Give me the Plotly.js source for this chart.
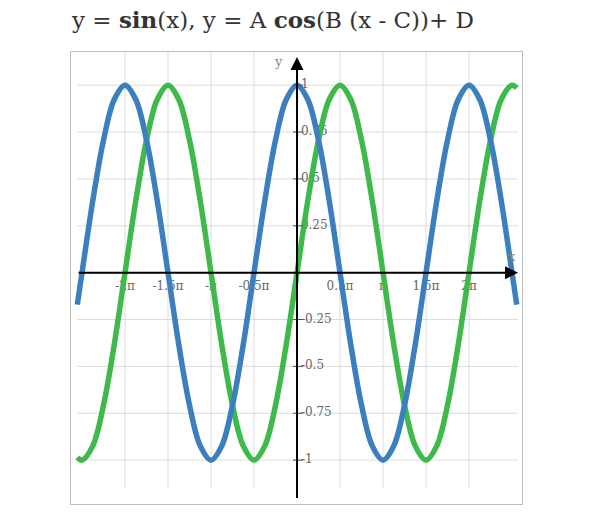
<!DOCTYPE html>
<html>
<head>
<meta charset="utf-8">
<script src="https://cdn.plot.ly/plotly-3.0.1.min.js"></script>
<style>html,body{margin:0;padding:0;background:#fff;}#chart{width:600px;height:524px;}</style>
</head>
<body>
<div id="chart"></div>
<script>
// x in multiples of pi
const xPi = [-2.555, -2.5, -2.375, -2.25, -2.125, -2, -1.875, -1.75, -1.625, -1.5, -1.375, -1.25, -1.125,
  -1, -0.875, -0.75, -0.625, -0.5, -0.375, -0.25, -0.125, 0, 0.125, 0.25, 0.375, 0.5, 0.625, 0.75, 0.875,
  1, 1.125, 1.25, 1.375, 1.5, 1.625, 1.75, 1.875, 2, 2.125, 2.25, 2.375, 2.5, 2.555];
const blueY = [-0.17, 0, 0.383, 0.707, 0.924, 1, 0.924, 0.707, 0.383, 0, -0.383, -0.707, -0.924,
  -1, -0.924, -0.707, -0.383, 0, 0.383, 0.707, 0.924, 1, 0.924, 0.707, 0.383, 0, -0.383, -0.707, -0.924,
  -1, -0.924, -0.707, -0.383, 0, 0.383, 0.707, 0.924, 1, 0.924, 0.707, 0.383, 0, -0.17];
const greenY = [-0.985, -1, -0.924, -0.707, -0.383, 0, 0.383, 0.707, 0.924, 1, 0.924, 0.707, 0.383,
  0, -0.383, -0.707, -0.924, -1, -0.924, -0.707, -0.383, 0, 0.383, 0.707, 0.924, 1, 0.924, 0.707, 0.383,
  0, -0.383, -0.707, -0.924, -1, -0.924, -0.707, -0.383, 0, 0.383, 0.707, 0.924, 1, 0.985];

const xTickVals = [-2, -1.5, -1, -0.5, 0.5, 1, 1.5, 2];
const xTickText = ['-2π', '-1.5π', '-π', '-0.5π', '0.5π', 'π', '1.5π', '2π'];
const yTickVals = [1, 0.75, 0.5, 0.25, -0.25, -0.5, -0.75, -1];
const yTickText = ['1', '0.75', '0.5', '0.25', '-0.25', '-0.5', '-0.75', '-1'];

const serif = 'DejaVu Serif, Liberation Serif, serif';
const xMin = -2.558, xMax = 2.57, yBot = -1.148, yTop = 1.177;

const shapes = [];
xTickVals.forEach(v => shapes.push({type:'line', layer:'below', x0:v, x1:v, y0:yBot, y1:yTop,
  line:{color:'#dcdcdc', width:1}}));
yTickVals.forEach(v => shapes.push({type:'line', layer:'below', x0:xMin, x1:xMax, y0:v, y1:v,
  line:{color:'#dcdcdc', width:1}}));
yTickVals.forEach(v => shapes.push({type:'line', layer:'above', x0:-0.047, x1:0.07, y0:v, y1:v,
  line:{color:'#555', width:1}}));

const traces = [
  {x: xTickVals, y: xTickVals.map(() => -0.075), mode:'text', text: xTickText, textposition:'middle center',
   textfont:{family:serif, size:12, color:'#666'}, hoverinfo:'skip', showlegend:false},
  {x: yTickVals.map(() => 0.045), y: yTickVals, mode:'text', text: yTickText, textposition:'middle right',
   textfont:{family:serif, size:12, color:'#666'}, hoverinfo:'skip', showlegend:false},
  {x: xPi, y: greenY, mode:'lines', line:{color:'#3dba4a', width:5.5, shape:'spline'}, hoverinfo:'skip', showlegend:false},
  {x: xPi, y: blueY, mode:'lines', line:{color:'#3b7fbe', width:5.5, shape:'spline'}, hoverinfo:'skip', showlegend:false}
];

const annotations = [
  {x: xMax, y: 0, ax: xMin, ay: 0, axref:'x', ayref:'y', xref:'x', yref:'y', text:'', showarrow:true,
   arrowhead:2, arrowsize:1.3, arrowwidth:2, arrowcolor:'#000'},
  {x: 0, y: 1.15, ax: 0, ay: -1.21, axref:'x', ayref:'y', xref:'x', yref:'y', text:'', showarrow:true,
   arrowhead:2, arrowsize:1.3, arrowwidth:2, arrowcolor:'#000'},
  {x: 2.5, y: 0.085, xref:'x', yref:'y', text:'x', showarrow:false, font:{family:serif, size:13, color:'#888'}},
  {x: -0.21, y: 1.125, xref:'x', yref:'y', text:'y', showarrow:false, font:{family:serif, size:13, color:'#888'}}
];

const layout = {
  width: 600, height: 524,
  margin: {l:71, r:78, t:52, b:20},
  paper_bgcolor:'#fff', plot_bgcolor:'#fff',
  title: {text:'y = <b>sin</b>(x), y = A <b>cos</b>(B (x - C))+ D', x: 72/600, xanchor:'left', xref:'container',
    y: 1 - 20/524, yanchor:'middle', yref:'container', font:{family:serif, size:23, color:'#333'}},
  xaxis: {range:[-2.628, 2.616], showgrid:false, zeroline:false, showticklabels:false, ticks:'',
    showline:true, mirror:true, linecolor:'#bdbdbd', linewidth:1, fixedrange:true},
  yaxis: {range:[-1.234, 1.177], showgrid:false, zeroline:false, showticklabels:false, ticks:'',
    showline:true, mirror:true, linecolor:'#bdbdbd', linewidth:1, fixedrange:true},
  shapes: shapes,
  annotations: annotations,
  showlegend:false
};

Plotly.newPlot('chart', traces, layout, {displayModeBar:false, staticPlot:true});
</script>
</body>
</html>
